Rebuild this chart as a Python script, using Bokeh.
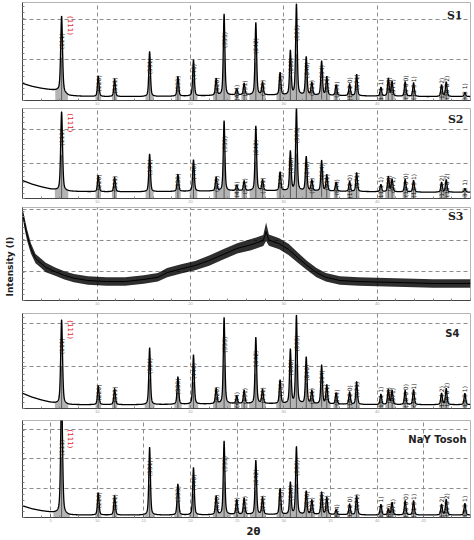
import numpy as np
from bokeh.plotting import figure
from bokeh.layouts import column
from bokeh.models import Label, FixedTicker, Range1d
from bokeh.embed import file_html
from bokeh.resources import INLINE
from bokeh.core.properties import value

# ---------------- data ----------------
peak_pos = [6.19, 10.12, 11.87, 15.62, 18.65, 20.32, 22.75, 23.60, 24.95, 25.75,
            27.00, 27.72, 29.60, 30.70, 31.35, 32.40, 33.00, 34.05, 34.60, 35.60,
            37.05, 37.80, 40.40, 41.20, 41.60, 43.00, 43.90, 46.90, 47.40, 49.40]
hkl = ["(111)", "(220)", "(311)", "(331)", "(333)", "(440)", "(620)", "(533)", "(444)", "(551)",
       "(642)", "(731)", "(733)", "(660)", "(555)", "(840)", "(911)", "(664)", "(931)", "(844)",
       "(10 2 0)", "(971)", "(11 1 1)", "(880)", "(971)", "(10 6 0)", "(11 5 1)", "(12 4 2)", "(10 8 2)", "(13 3 1)"]

s1_heights = [78, 21, 18, 46, 20, 37, 17, 83, 6, 12, 74, 13, 23, 45, 93, 39, 13, 35, 19, 11,
              12, 22, 9, 18, 15, 15, 14, 12, 15, 4]
s2_heights = [88, 18, 16, 42, 19, 35, 15, 78, 6, 11, 72, 12, 21, 44, 92, 38, 12, 34, 18, 10,
              11, 21, 8, 17, 14, 14, 13, 11, 14, 4]
s4_heights = [89, 20, 17, 60, 29, 52, 16, 91, 8, 14, 70, 15, 25, 57, 93, 49, 14, 41, 20, 12,
              13, 24, 11, 16, 15, 15, 16, 12, 17, 12]
nay_heights = [130, 23, 20, 70, 32, 49, 19, 76, 15, 17, 56, 18, 27, 33, 70, 24, 15, 23, 18, 5,
               11, 20, 11, 6, 13, 15, 15, 11, 16, 12]

bg_x = [2.0, 3.0, 4.0, 5.0, 5.8, 7.0, 8.0, 10.0, 15.0, 20.0, 25.0, 30.0, 35.0, 40.0, 45.0, 50.0]
s1_bg = [17.5, 14.5, 12.5, 11.0, 10.0, 5.0, 4.5, 4.0, 4.0, 4.5, 5.5, 5.5, 5.0, 4.5, 4.0, 4.0]
s2_bg = [20.0, 16.0, 13.0, 10.5, 9.0, 8.0, 7.8, 7.5, 7.5, 8.0, 8.5, 8.5, 8.0, 7.5, 7.0, 7.0]
s4_bg = [16.0, 12.0, 9.0, 6.5, 5.0, 4.0, 4.0, 4.0, 4.0, 4.5, 5.0, 5.0, 4.5, 4.0, 4.0, 4.0]
nay_bg = [12.0, 9.0, 7.0, 5.5, 4.5, 2.5, 2.5, 2.5, 2.5, 2.5, 3.0, 3.0, 3.0, 2.5, 2.5, 2.5]

s3_x = [2.0, 2.2, 2.5, 2.9, 3.4, 4.0, 4.5, 5.5, 6.5, 7.5, 9.0, 11.0, 13.0, 15.0, 16.5, 17.5,
        19.0, 20.5, 22.0, 23.5, 25.0, 26.5, 27.8, 28.1, 28.4, 29.5, 30.5, 31.5, 32.5, 33.5,
        34.5, 36.0, 38.0, 42.0, 46.0, 50.0]
s3_center = [95, 84, 70, 56, 45, 40, 35.5, 31, 27, 24, 21.5, 20.4, 20.4, 22.6, 25, 30,
             34, 37.6, 43, 49.5, 56, 60, 64.5, 74, 65, 61, 55, 46, 37.6, 30,
             25, 21.5, 20.4, 19.4, 18.3, 18.3]
s3_spread = [4, 6, 6, 5.5, 5, 5, 5, 4.5, 4.5, 4.5, 4.5, 4.5, 4.5, 4.5, 4.5, 5, 5, 5, 5.5, 5.5,
             5.5, 6, 6, 10, 6, 6, 6, 5.5, 5, 5, 4.5, 4.5, 4.5, 4.5, 4.5, 4.5]

panel_names = ["S1", "S2", "S3", "S4", "NaY Tosoh"]
hgrid = {"S1": [41.8, 82.7], "S2": [38.9, 76.7], "S3": [31.2, 64.5, 97.8],
         "S4": [44, 89.5], "NaY Tosoh": [30, 61, 91]}
red_label_y = {"S1": 76.5, "S2": 84, "S4": 83, "NaY Tosoh": 81}

# ---------------- layout settings ----------------
FW = 448
frame_h = {"S1": 98, "S2": 90, "S3": 93, "S4": 95, "NaY Tosoh": 97}
gap_above = {"S1": 2, "S2": 0, "S3": 0, "S4": 0, "NaY Tosoh": 0}
gap_below = {"S1": 8, "S2": 9, "S3": 13, "S4": 12, "NaY Tosoh": 20}
name_off = {"S1": 13, "S2": 10.5, "S3": 9, "S4": 20, "NaY Tosoh": 19}
name_right = {"S1": 8, "S2": 7, "S3": 7, "S4": 11, "NaY Tosoh": 4}
name_font = {"S1": "DejaVu Serif", "S2": "DejaVu Serif", "S3": "DejaVu Serif",
             "S4": "DejaVu Sans", "NaY Tosoh": "DejaVu Sans"}
NBSP = "\u00a0"

x = np.linspace(2, 50, 2401)


def peak_sum(heights, width=0.2, eta=0.45):
    y = np.zeros_like(x)
    for p, h in zip(peak_pos, heights):
        if h <= 0:
            continue
        w = width * (1.15 if p < 7 else 1.0)
        d = (x - p) / w
        y += h * ((1 - eta) * np.exp(-4 * np.log(2) * d * d) + eta / (1 + 4 * d * d))
    return y


def make_panel(name):
    p = figure(frame_width=FW, frame_height=frame_h[name], output_backend="svg",
               toolbar_location=None, x_range=Range1d(2, 50), y_range=Range1d(0, 100),
               min_border_left=22, min_border_right=4, min_border_top=gap_above[name],
               min_border_bottom=gap_below[name])
    p.background_fill_color = "white"
    p.outline_line_color = "#b5b5b5"
    major_x = [5, 10, 15, 20, 25, 30, 35, 40, 45] if name == "NaY Tosoh" else [10, 20, 30, 40]
    p.xaxis.ticker = FixedTicker(ticks=major_x, minor_ticks=list(range(2, 51, 2)))
    p.xgrid.ticker = FixedTicker(ticks=major_x)
    p.yaxis.ticker = FixedTicker(ticks=[], minor_ticks=list(range(0, 101, 6)) + hgrid[name])
    p.ygrid.ticker = FixedTicker(ticks=hgrid[name])
    for g in (p.xgrid, p.ygrid):
        g.grid_line_color = "#8c8c8c"
        g.grid_line_dash = "4 3"
        g.grid_line_width = 1
    for ax in (p.xaxis, p.yaxis):
        ax.axis_line_color = "#444444"
        ax.major_tick_in = 3
        ax.major_tick_out = 0
        ax.minor_tick_in = 2
        ax.minor_tick_out = 0
        ax.major_tick_line_color = "#666666"
        ax.minor_tick_line_color = "#888888"
    p.xaxis.major_label_text_font_size = "4px"
    p.xaxis.major_label_text_color = "#a0a0a0"
    p.xaxis.major_label_standoff = 1
    return p


heights_map = {"S1": s1_heights, "S2": s2_heights, "S4": s4_heights, "NaY Tosoh": nay_heights}
bg_map = {"S1": s1_bg, "S2": s2_bg, "S4": s4_bg, "NaY Tosoh": nay_bg}

panels = []
for name in panel_names:
    p = make_panel(name)
    if name == "S3":
        c = np.array(s3_center)
        s = np.array(s3_spread)
        p.varea(x=s3_x, y1=list(c - s), y2=list(c + s), fill_color="black", fill_alpha=0.82)
        p.line(x=s3_x, y=s3_center, line_color="black", line_width=1)
    else:
        heights = heights_map[name]
        bg = np.interp(x, bg_x, bg_map[name])
        pk = peak_sum(heights)
        prof = bg + pk
        mask = pk > 1.0
        # grey fill of the fitted peaks
        p.varea(x=x, y1=np.where(mask, 0, prof), y2=prof, fill_color="#b4b4b4", fill_alpha=1)
        # reference sticks
        bg_at = np.interp(peak_pos, bg_x, bg_map[name])
        tops = [b + h * 0.45 for b, h in zip(bg_at, heights)]
        p.segment(x0=peak_pos, y0=[0] * len(peak_pos), x1=peak_pos, y1=tops,
                  line_color="#5a5a5a", line_width=1)
        p.line(x=x, y=prof, line_color="black", line_width=1.3)
        # hkl annotations
        ly = [min(0.7 * (b + h), 72) for b, h in zip(bg_at, heights)]
        p.text(x=peak_pos, y=ly, text=hkl, angle=np.pi / 2, text_font=value("DejaVu Sans"),
               text_font_size="6px", text_align="center", text_baseline="middle",
               text_color="#111111")
        p.add_layout(Label(x=7.1, y=red_label_y[name], text="(111)", angle=-np.pi / 2,
                           text_font="DejaVu Sans", text_font_size="7px", text_color="#e3242b",
                           text_align="center", text_baseline="middle"))
    p.add_layout(Label(x=FW - name_right[name], y=frame_h[name] - name_off[name],
                       x_units="screen", y_units="screen", text=name,
                       text_font=name_font[name],
                       text_font_size="11px" if name_font[name] == "DejaVu Serif" else "10px",
                       text_font_style="bold", text_color="#222222", text_align="right",
                       text_baseline="middle"))
    if name == "S3":
        p.yaxis.axis_label = "Intensity (I)" + NBSP * 8
        p.yaxis.axis_label_text_font = "DejaVu Sans"
        p.yaxis.axis_label_text_font_size = "9px"
        p.yaxis.axis_label_text_font_style = "bold"
        p.yaxis.axis_label_text_color = "#222222"
        p.yaxis.axis_label_standoff = 8
    if name == "NaY Tosoh":
        p.xaxis.axis_label = NBSP * 4 + "2θ"
        p.xaxis.axis_label_text_font = "DejaVu Sans"
        p.xaxis.axis_label_text_font_size = "10px"
        p.xaxis.axis_label_text_font_style = "bold"
        p.xaxis.axis_label_text_color = "#222222"
        p.xaxis.axis_label_standoff = 1
    panels.append(p)

layout = column(*panels, spacing=0)
open("out.html", "w").write(file_html(layout, INLINE))
